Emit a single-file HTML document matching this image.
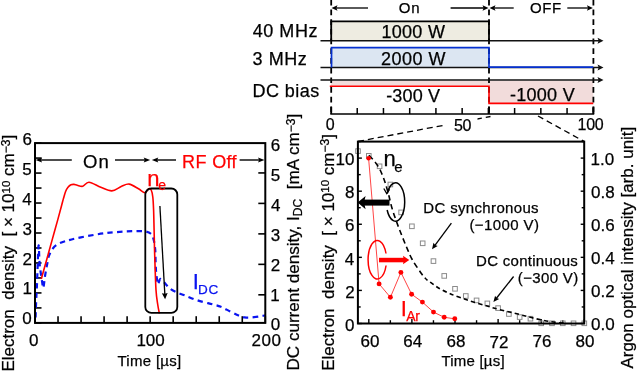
<!DOCTYPE html>
<html><head><meta charset="utf-8"><style>
html,body{margin:0;padding:0;background:#fff;width:637px;height:371px;overflow:hidden}
svg{display:block;will-change:transform}
text{font-family:"Liberation Sans",sans-serif}
</style></head><body>
<svg width="637" height="371" viewBox="0 0 637 371">
<rect x="331" y="21.4" width="158" height="19.4" fill="#EEECE1"/>
<rect x="331" y="47.6" width="158" height="19.8" fill="#DCE6F2"/>
<rect x="331" y="80.8" width="158" height="5" fill="#F2DCDB"/>
<rect x="489" y="80.8" width="104.3" height="22.4" fill="#F2DCDB"/>
<line x1="331.2" y1="-0.2" x2="331.2" y2="114" stroke="#000" stroke-width="1.8" stroke-dasharray="5.7,4"/>
<line x1="331.2" y1="106.8" x2="331.2" y2="114" stroke="#000" stroke-width="1.8"/>
<line x1="489" y1="-0.2" x2="489" y2="114" stroke="#000" stroke-width="1.8" stroke-dasharray="5.7,4"/>
<line x1="489" y1="106.8" x2="489" y2="114" stroke="#000" stroke-width="1.8"/>
<line x1="593.4" y1="-0.2" x2="593.4" y2="114" stroke="#000" stroke-width="1.8" stroke-dasharray="5.7,4"/>
<line x1="593.4" y1="106.8" x2="593.4" y2="114" stroke="#000" stroke-width="1.8"/>
<line x1="320.5" y1="40.8" x2="599" y2="40.8" stroke="#111" stroke-width="1.5"/><polygon points="603.5,40.8 597.5,43.8 598.7,40.8 597.5,37.8" fill="#111"/>
<line x1="320.5" y1="67.4" x2="599" y2="67.4" stroke="#111" stroke-width="1.5"/><polygon points="603.5,67.4 597.5,70.4 598.7,67.4 597.5,64.4" fill="#111"/>
<line x1="320.5" y1="80" x2="599" y2="80" stroke="#111" stroke-width="1.5"/><polygon points="603.5,80 597.5,83 598.7,80 597.5,77" fill="#111"/>
<path d="M331.2,40.8 V21.4 H489 V40.8" fill="none" stroke="#000" stroke-width="1.8"/>
<path d="M331.5,67.4 V47.6 H489 V67.2 H593.3" fill="none" stroke="#0530D0" stroke-width="1.7"/>
<path d="M329.8,86.3 H489 V103.4 H593.3" fill="none" stroke="#FF0000" stroke-width="1.6"/>
<line x1="330.3" y1="114" x2="594.2" y2="114" stroke="#000" stroke-width="1.6"/>
<line x1="357.23" y1="108" x2="357.23" y2="114" stroke="#000" stroke-width="1.5"/>
<line x1="383.46" y1="108" x2="383.46" y2="114" stroke="#000" stroke-width="1.5"/>
<line x1="409.69" y1="108" x2="409.69" y2="114" stroke="#000" stroke-width="1.5"/>
<line x1="435.92" y1="108" x2="435.92" y2="114" stroke="#000" stroke-width="1.5"/>
<line x1="462.15" y1="108" x2="462.15" y2="114" stroke="#000" stroke-width="1.5"/>
<line x1="488.38" y1="108" x2="488.38" y2="114" stroke="#000" stroke-width="1.5"/>
<line x1="514.61" y1="108" x2="514.61" y2="114" stroke="#000" stroke-width="1.5"/>
<line x1="540.84" y1="108" x2="540.84" y2="114" stroke="#000" stroke-width="1.5"/>
<line x1="567.07" y1="108" x2="567.07" y2="114" stroke="#000" stroke-width="1.5"/>
<line x1="593.3" y1="108" x2="593.3" y2="114" stroke="#000" stroke-width="1.5"/>
<line x1="368" y1="8" x2="336" y2="8" stroke="#000" stroke-width="1.3"/><polygon points="331.5,8 337.5,5.2 336.3,8 337.5,10.8" fill="#000"/>
<line x1="450.6" y1="8" x2="484" y2="8" stroke="#000" stroke-width="1.3"/><polygon points="488.5,8 482.5,10.8 483.7,8 482.5,5.2" fill="#000"/>
<line x1="513.7" y1="8" x2="494" y2="8" stroke="#000" stroke-width="1.3"/><polygon points="489.5,8 495.5,5.2 494.3,8 495.5,10.8" fill="#000"/>
<line x1="567.3" y1="8" x2="588.4" y2="8" stroke="#000" stroke-width="1.3"/><polygon points="592.9,8 586.9,10.8 588.1,8 586.9,5.2" fill="#000"/>
<text x="398.69" y="12.96" font-size="15" fill="#000" stroke="#000" stroke-width="0.25" textLength="20.97" lengthAdjust="spacing">On</text>
<text x="529.89" y="13.01" font-size="15" fill="#000" stroke="#000" stroke-width="0.25" textLength="31.34" lengthAdjust="spacing">OFF</text>
<text x="252.79" y="37.34" font-size="18" fill="#000" stroke="#000" stroke-width="0.25" textLength="64.61" lengthAdjust="spacing">40 MHz</text>
<text x="252.52" y="64.94" font-size="18" fill="#000" stroke="#000" stroke-width="0.25" textLength="54.26" lengthAdjust="spacing">3 MHz</text>
<text x="252.41" y="97.19" font-size="18" fill="#000" stroke="#000" stroke-width="0.25" textLength="66.9" lengthAdjust="spacing">DC bias</text>
<text x="381.45" y="37.59" font-size="18" fill="#000" stroke="#000" stroke-width="0.25" textLength="63.52" lengthAdjust="spacing">1000 W</text>
<text x="380.9" y="64.69" font-size="18" fill="#000" stroke="#000" stroke-width="0.25" textLength="64.57" lengthAdjust="spacing">2000 W</text>
<text x="386.19" y="101.59" font-size="18" fill="#000" stroke="#000" stroke-width="0.25" textLength="53.78" lengthAdjust="spacing">-300 V</text>
<text x="509.89" y="101.09" font-size="18" fill="#000" stroke="#000" stroke-width="0.25" textLength="64.8" lengthAdjust="spacing">-1000 V</text>
<text x="325.76" y="130.35" font-size="16" fill="#000" stroke="#000" stroke-width="0.25">0</text>
<line x1="358" y1="141.4" x2="490.5" y2="116.5" stroke="#000" stroke-width="1.3" stroke-dasharray="6,4"/>
<line x1="538" y1="116" x2="584" y2="141.4" stroke="#000" stroke-width="1.3" stroke-dasharray="6,4"/>
<rect x="443.5" y="117.5" width="34" height="16" fill="#fff"/>
<text x="453.96" y="130.5" font-size="16" fill="#000" stroke="#000" stroke-width="0.25" textLength="17.48" lengthAdjust="spacing">50</text>
<text x="577.5" y="130.1" font-size="16" fill="#000" stroke="#000" stroke-width="0.25" textLength="26.22" lengthAdjust="spacing">100</text>
<line x1="35" y1="322.9" x2="41.5" y2="322.9" stroke="#000" stroke-width="1.6"/>
<line x1="35" y1="307.92" x2="41.5" y2="307.92" stroke="#000" stroke-width="1.6"/>
<line x1="35" y1="292.93" x2="41.5" y2="292.93" stroke="#000" stroke-width="1.6"/>
<line x1="35" y1="277.95" x2="41.5" y2="277.95" stroke="#000" stroke-width="1.6"/>
<line x1="35" y1="262.97" x2="41.5" y2="262.97" stroke="#000" stroke-width="1.6"/>
<line x1="35" y1="247.98" x2="41.5" y2="247.98" stroke="#000" stroke-width="1.6"/>
<line x1="35" y1="233" x2="41.5" y2="233" stroke="#000" stroke-width="1.6"/>
<line x1="35" y1="218.02" x2="41.5" y2="218.02" stroke="#000" stroke-width="1.6"/>
<line x1="35" y1="203.03" x2="41.5" y2="203.03" stroke="#000" stroke-width="1.6"/>
<line x1="35" y1="188.05" x2="41.5" y2="188.05" stroke="#000" stroke-width="1.6"/>
<line x1="35" y1="173.07" x2="41.5" y2="173.07" stroke="#000" stroke-width="1.6"/>
<line x1="35" y1="158.08" x2="41.5" y2="158.08" stroke="#000" stroke-width="1.6"/>
<line x1="35" y1="143.1" x2="41.5" y2="143.1" stroke="#000" stroke-width="1.6"/>
<line x1="258.3" y1="294.82" x2="265.3" y2="294.82" stroke="#000" stroke-width="1.6"/>
<line x1="258.3" y1="264.35" x2="265.3" y2="264.35" stroke="#000" stroke-width="1.6"/>
<line x1="258.3" y1="233.88" x2="265.3" y2="233.88" stroke="#000" stroke-width="1.6"/>
<line x1="258.3" y1="203.4" x2="265.3" y2="203.4" stroke="#000" stroke-width="1.6"/>
<line x1="258.3" y1="172.93" x2="265.3" y2="172.93" stroke="#000" stroke-width="1.6"/>
<line x1="35" y1="316.2" x2="35" y2="322.9" stroke="#000" stroke-width="1.6"/>
<line x1="58.03" y1="316.2" x2="58.03" y2="322.9" stroke="#000" stroke-width="1.6"/>
<line x1="81.06" y1="316.2" x2="81.06" y2="322.9" stroke="#000" stroke-width="1.6"/>
<line x1="104.09" y1="316.2" x2="104.09" y2="322.9" stroke="#000" stroke-width="1.6"/>
<line x1="127.12" y1="316.2" x2="127.12" y2="322.9" stroke="#000" stroke-width="1.6"/>
<line x1="150.15" y1="316.2" x2="150.15" y2="322.9" stroke="#000" stroke-width="1.6"/>
<line x1="173.18" y1="316.2" x2="173.18" y2="322.9" stroke="#000" stroke-width="1.6"/>
<line x1="196.21" y1="316.2" x2="196.21" y2="322.9" stroke="#000" stroke-width="1.6"/>
<line x1="219.24" y1="316.2" x2="219.24" y2="322.9" stroke="#000" stroke-width="1.6"/>
<line x1="242.27" y1="316.2" x2="242.27" y2="322.9" stroke="#000" stroke-width="1.6"/>
<line x1="265.3" y1="316.2" x2="265.3" y2="322.9" stroke="#000" stroke-width="1.6"/>
<path d="M35.5,321 C35.62,317.5 35.95,306.17 36.2,300 C36.45,293.83 36.62,293 37,284 C37.38,275 38.08,249.67 38.5,246 C38.92,242.33 39.17,257.83 39.5,262 C39.83,266.17 40.08,267.83 40.5,271 C40.92,274.17 41.53,278.17 42,281 C42.47,283.83 42.82,288.67 43.3,288 C43.78,287.33 44.42,280.17 44.9,277 C45.38,273.83 45.78,271.33 46.2,269 C46.62,266.67 46.95,265.17 47.4,263 C47.85,260.83 48.12,258.25 48.9,256 C49.68,253.75 50.75,251.38 52.1,249.5 C53.45,247.62 54.85,246.07 57,244.7 C59.15,243.33 61.02,242.53 65,241.3 C68.98,240.07 73.93,238.68 80.9,237.3 C87.87,235.92 98.17,234.02 106.8,233 C115.43,231.98 126.37,231.47 132.7,231.2 C139.03,230.93 141.77,230.97 144.8,231.4 C147.83,231.83 149.43,232.45 150.9,233.8 C152.37,235.15 152.88,236.9 153.6,239.5 C154.32,242.1 154.87,245.65 155.2,249.4 C155.53,253.15 155.45,258.23 155.6,262 C155.75,265.77 155.85,269 156.1,272 C156.35,275 156.77,277.93 157.1,280 C157.43,282.07 157.58,284.57 158.1,284.4 C158.62,284.23 159.3,279.48 160.2,279 C161.1,278.52 162.45,280.5 163.5,281.5 C164.55,282.5 165.42,283.82 166.5,285 C167.58,286.18 168.42,287.42 170,288.6 C171.58,289.78 173.58,290.98 176,292.1 C178.42,293.22 180.93,293.93 184.5,295.3 C188.07,296.67 192.7,298.78 197.4,300.3 C202.1,301.82 208.78,303.32 212.7,304.4 C216.62,305.48 217.97,305.62 220.9,306.8 C223.83,307.98 227.35,310.03 230.3,311.5 C233.25,312.97 236.23,314.62 238.6,315.6 C240.97,316.58 242.35,317.08 244.5,317.4 C246.65,317.72 248.77,317.7 251.5,317.5 C254.23,317.3 258.65,316.55 260.9,316.2 C263.15,315.85 264.32,315.53 265,315.4" fill="none" stroke="#0A14F0" stroke-width="2.2" stroke-dasharray="5.4,4.31" stroke-dashoffset="6.16"/>
<path d="M41.3,279 C42.22,275.7 44.97,265.8 46.8,259.2 C48.63,252.6 50.47,246 52.3,239.4 C54.13,232.8 56.25,225.25 57.8,219.6 C59.35,213.95 60.63,209.1 61.6,205.5 C62.57,201.9 62.93,200.33 63.6,198 C64.27,195.67 64.87,193.28 65.6,191.5 C66.33,189.72 67.1,188.42 68,187.3 C68.9,186.18 70,185.28 71,184.8 C72,184.32 72.95,184.32 74,184.4 C75.05,184.48 75.83,184.98 77.3,185.3 C78.77,185.62 80.85,186.82 82.8,186.3 C84.75,185.78 86,182.03 89,182.2 C92,182.37 97,185.85 100.8,187.3 C104.6,188.75 108.4,191.03 111.8,190.9 C115.2,190.77 118.32,187.63 121.2,186.5 C124.08,185.37 126.22,183.72 129.1,184.1 C131.98,184.48 135.88,187.35 138.5,188.8 C141.12,190.25 143.1,192.8 144.8,192.8 C146.5,192.8 147.63,189.27 148.7,188.8 C149.77,188.33 150.52,188.63 151.2,190 C151.88,191.37 152.4,193.67 152.8,197 C153.2,200.33 153.38,204.5 153.6,210 C153.82,215.5 153.92,222.5 154.1,230 C154.28,237.5 154.38,245 154.7,255 C155.02,265 155.48,281.67 156,290 C156.52,298.33 157.23,301.08 157.8,305 C158.37,308.92 159.13,312.08 159.4,313.5" fill="none" stroke="#FF0000" stroke-width="1.6"/>
<rect x="145.3" y="188.5" width="32" height="124.4" rx="6" fill="none" stroke="#000" stroke-width="1.8"/>
<line x1="159.9" y1="206" x2="164.82" y2="294.11" stroke="#000" stroke-width="1.3"/><polygon points="165.1,299.2 161.87,293.37 164.8,293.81 167.66,293.05" fill="#000"/>
<rect x="35" y="143.1" width="230.3" height="179.8" fill="none" stroke="#000" stroke-width="2"/>
<line x1="71.8" y1="160" x2="40.6" y2="160" stroke="#000" stroke-width="1.4"/><polygon points="35.6,160 42.1,157.5 40.9,160 42.1,162.5" fill="#000"/>
<line x1="115" y1="160" x2="145.2" y2="160" stroke="#000" stroke-width="1.4"/><polygon points="150.2,160 143.7,162.5 144.9,160 143.7,157.5" fill="#000"/>
<line x1="176" y1="160" x2="156.8" y2="160" stroke="#000" stroke-width="1.4"/><polygon points="151.8,160 158.3,157.5 157.1,160 158.3,162.5" fill="#000"/>
<line x1="239.6" y1="160" x2="259.5" y2="160" stroke="#000" stroke-width="1.4"/><polygon points="264.5,160 258,162.5 259.2,160 258,157.5" fill="#000"/>
<text x="83.02" y="168.21" font-size="18.5" fill="#000" stroke="#000" stroke-width="0.25" textLength="25.86" lengthAdjust="spacing">On</text>
<text x="182.01" y="167.86" font-size="18" fill="#FF0000" stroke="#FF0000" stroke-width="0.25" textLength="54.57" lengthAdjust="spacing">RF Off</text>
<text x="147.21" y="185.91" font-size="22" fill="#FF0000" stroke="#FF0000" stroke-width="0.25">n</text>
<text x="158.21" y="190.39" font-size="14" fill="#FF0000" stroke="#FF0000" stroke-width="0.25">e</text>
<text x="192.87" y="289.3" font-size="22" fill="#0A14F0" stroke="#0A14F0" stroke-width="0.25">I</text>
<text x="197.89" y="293.59" font-size="13.5" fill="#0A14F0" stroke="#0A14F0" stroke-width="0.25" textLength="20.41" lengthAdjust="spacing">DC</text>
<text x="22.3" y="324.17" font-size="17" fill="#000" stroke="#000" stroke-width="0.25">0</text>
<text x="22.47" y="294.34" font-size="17" fill="#000" stroke="#000" stroke-width="0.25">1</text>
<text x="22.52" y="264.6" font-size="17" fill="#000" stroke="#000" stroke-width="0.25">2</text>
<text x="22.39" y="234.68" font-size="17" fill="#000" stroke="#000" stroke-width="0.25">3</text>
<text x="22.13" y="204.85" font-size="17" fill="#000" stroke="#000" stroke-width="0.25">4</text>
<text x="22.34" y="174.94" font-size="17" fill="#000" stroke="#000" stroke-width="0.25">5</text>
<text x="22.39" y="145.19" font-size="17" fill="#000" stroke="#000" stroke-width="0.25">6</text>
<text x="270.82" y="330.34" font-size="17" fill="#000" stroke="#000" stroke-width="0.25">0</text>
<text x="270.23" y="300.5" font-size="17" fill="#000" stroke="#000" stroke-width="0.25">1</text>
<text x="270.65" y="270.75" font-size="17" fill="#000" stroke="#000" stroke-width="0.25">2</text>
<text x="270.86" y="240.82" font-size="17" fill="#000" stroke="#000" stroke-width="0.25">3</text>
<text x="271.12" y="210.98" font-size="17" fill="#000" stroke="#000" stroke-width="0.25">4</text>
<text x="270.82" y="181.06" font-size="17" fill="#000" stroke="#000" stroke-width="0.25">5</text>
<text x="270.65" y="151.3" font-size="17" fill="#000" stroke="#000" stroke-width="0.25">6</text>
<text x="29.06" y="345.74" font-size="17" fill="#000" stroke="#000" stroke-width="0.25">0</text>
<text x="136.42" y="345.74" font-size="17" fill="#000" stroke="#000" stroke-width="0.25">100</text>
<text x="251.45" y="345.64" font-size="17" fill="#000" stroke="#000" stroke-width="0.25" textLength="29.5" lengthAdjust="spacing">200</text>
<text x="117.46" y="365.78" font-size="15" fill="#000" stroke="#000" stroke-width="0.25" textLength="63.79" lengthAdjust="spacing">Time [&#181;s]</text>
<text transform="translate(13.8,371.6) rotate(-90)" font-size="17" stroke="#000" stroke-width="0.25" xml:space="preserve">Electron  density  [ &#215; 10<tspan font-size="11.5" dy="-4.2">10</tspan><tspan dy="4.2"> cm</tspan><tspan font-size="12" dy="-4.2">&#8722;3</tspan><tspan dy="4.2">]</tspan></text>
<text transform="translate(298.7,370.5) rotate(-90) scale(1.005,1)" font-size="17" stroke="#000" stroke-width="0.25" xml:space="preserve">DC current density, I<tspan font-size="12" dy="3.5">DC</tspan><tspan dy="-3.5">  [mA cm</tspan><tspan font-size="12" dy="-4.2">&#8722;3</tspan><tspan dy="4.2">]</tspan></text>
<line x1="357.9" y1="323.5" x2="361.9" y2="323.5" stroke="#000" stroke-width="1.4"/>
<line x1="357.9" y1="306.96" x2="360.7" y2="306.96" stroke="#000" stroke-width="1.4"/>
<line x1="357.9" y1="290.42" x2="361.9" y2="290.42" stroke="#000" stroke-width="1.4"/>
<line x1="357.9" y1="273.88" x2="360.7" y2="273.88" stroke="#000" stroke-width="1.4"/>
<line x1="357.9" y1="257.34" x2="361.9" y2="257.34" stroke="#000" stroke-width="1.4"/>
<line x1="357.9" y1="240.8" x2="360.7" y2="240.8" stroke="#000" stroke-width="1.4"/>
<line x1="357.9" y1="224.26" x2="361.9" y2="224.26" stroke="#000" stroke-width="1.4"/>
<line x1="357.9" y1="207.72" x2="360.7" y2="207.72" stroke="#000" stroke-width="1.4"/>
<line x1="357.9" y1="191.18" x2="361.9" y2="191.18" stroke="#000" stroke-width="1.4"/>
<line x1="357.9" y1="174.64" x2="360.7" y2="174.64" stroke="#000" stroke-width="1.4"/>
<line x1="357.9" y1="158.1" x2="361.9" y2="158.1" stroke="#000" stroke-width="1.4"/>
<line x1="357.9" y1="141.56" x2="360.7" y2="141.56" stroke="#000" stroke-width="1.4"/>
<line x1="580.7" y1="323.5" x2="584.2" y2="323.5" stroke="#000" stroke-width="1.4"/>
<line x1="581.7" y1="306.96" x2="584.2" y2="306.96" stroke="#000" stroke-width="1.4"/>
<line x1="580.7" y1="290.42" x2="584.2" y2="290.42" stroke="#000" stroke-width="1.4"/>
<line x1="581.7" y1="273.88" x2="584.2" y2="273.88" stroke="#000" stroke-width="1.4"/>
<line x1="580.7" y1="257.34" x2="584.2" y2="257.34" stroke="#000" stroke-width="1.4"/>
<line x1="581.7" y1="240.8" x2="584.2" y2="240.8" stroke="#000" stroke-width="1.4"/>
<line x1="580.7" y1="224.26" x2="584.2" y2="224.26" stroke="#000" stroke-width="1.4"/>
<line x1="581.7" y1="207.72" x2="584.2" y2="207.72" stroke="#000" stroke-width="1.4"/>
<line x1="580.7" y1="191.18" x2="584.2" y2="191.18" stroke="#000" stroke-width="1.4"/>
<line x1="581.7" y1="174.64" x2="584.2" y2="174.64" stroke="#000" stroke-width="1.4"/>
<line x1="580.7" y1="158.1" x2="584.2" y2="158.1" stroke="#000" stroke-width="1.4"/>
<line x1="581.7" y1="141.56" x2="584.2" y2="141.56" stroke="#000" stroke-width="1.4"/>
<line x1="368.8" y1="319.1" x2="368.8" y2="323.5" stroke="#000" stroke-width="1.4"/>
<line x1="390.35" y1="320.2" x2="390.35" y2="323.5" stroke="#000" stroke-width="1.4"/>
<line x1="411.9" y1="319.1" x2="411.9" y2="323.5" stroke="#000" stroke-width="1.4"/>
<line x1="433.46" y1="320.2" x2="433.46" y2="323.5" stroke="#000" stroke-width="1.4"/>
<line x1="455.01" y1="319.1" x2="455.01" y2="323.5" stroke="#000" stroke-width="1.4"/>
<line x1="476.56" y1="320.2" x2="476.56" y2="323.5" stroke="#000" stroke-width="1.4"/>
<line x1="498.11" y1="319.1" x2="498.11" y2="323.5" stroke="#000" stroke-width="1.4"/>
<line x1="519.66" y1="320.2" x2="519.66" y2="323.5" stroke="#000" stroke-width="1.4"/>
<line x1="541.22" y1="319.1" x2="541.22" y2="323.5" stroke="#000" stroke-width="1.4"/>
<line x1="562.77" y1="320.2" x2="562.77" y2="323.5" stroke="#000" stroke-width="1.4"/>
<line x1="584.32" y1="319.1" x2="584.32" y2="323.5" stroke="#000" stroke-width="1.4"/>
<rect x="355.72" y="148.8" width="4.6" height="4.6" fill="none" stroke="#8a8a8a" stroke-width="1"/>
<rect x="366.5" y="153.5" width="4.6" height="4.6" fill="none" stroke="#8a8a8a" stroke-width="1"/>
<rect x="377.28" y="164" width="4.6" height="4.6" fill="none" stroke="#8a8a8a" stroke-width="1"/>
<rect x="388.05" y="182.2" width="4.6" height="4.6" fill="none" stroke="#8a8a8a" stroke-width="1"/>
<rect x="398.83" y="210.1" width="4.6" height="4.6" fill="none" stroke="#8a8a8a" stroke-width="1"/>
<rect x="409.6" y="224" width="4.6" height="4.6" fill="none" stroke="#8a8a8a" stroke-width="1"/>
<rect x="420.38" y="241" width="4.6" height="4.6" fill="none" stroke="#8a8a8a" stroke-width="1"/>
<rect x="431.16" y="258.8" width="4.6" height="4.6" fill="none" stroke="#8a8a8a" stroke-width="1"/>
<rect x="441.93" y="273.6" width="4.6" height="4.6" fill="none" stroke="#8a8a8a" stroke-width="1"/>
<rect x="452.71" y="286.5" width="4.6" height="4.6" fill="none" stroke="#8a8a8a" stroke-width="1"/>
<rect x="463.48" y="293.7" width="4.6" height="4.6" fill="none" stroke="#8a8a8a" stroke-width="1"/>
<rect x="474.26" y="298.1" width="4.6" height="4.6" fill="none" stroke="#8a8a8a" stroke-width="1"/>
<rect x="485.04" y="301.1" width="4.6" height="4.6" fill="none" stroke="#8a8a8a" stroke-width="1"/>
<rect x="495.81" y="305.8" width="4.6" height="4.6" fill="none" stroke="#8a8a8a" stroke-width="1"/>
<rect x="506.59" y="311.7" width="4.6" height="4.6" fill="none" stroke="#8a8a8a" stroke-width="1"/>
<rect x="517.36" y="314.8" width="4.6" height="4.6" fill="none" stroke="#8a8a8a" stroke-width="1"/>
<rect x="528.14" y="316.4" width="4.6" height="4.6" fill="none" stroke="#8a8a8a" stroke-width="1"/>
<rect x="538.92" y="321" width="4.6" height="4.6" fill="none" stroke="#8a8a8a" stroke-width="1"/>
<rect x="549.69" y="321" width="4.6" height="4.6" fill="none" stroke="#8a8a8a" stroke-width="1"/>
<rect x="560.47" y="321" width="4.6" height="4.6" fill="none" stroke="#8a8a8a" stroke-width="1"/>
<rect x="571.24" y="321" width="4.6" height="4.6" fill="none" stroke="#8a8a8a" stroke-width="1"/>
<rect x="582.02" y="321" width="4.6" height="4.6" fill="none" stroke="#8a8a8a" stroke-width="1"/>
<path d="M368.6,155 C369.25,155.67 371.22,157.55 372.5,159 C373.78,160.45 374.98,161.78 376.3,163.7 C377.62,165.62 379.02,167.62 380.4,170.5 C381.78,173.38 383.28,177.17 384.6,181 C385.92,184.83 387.05,188.92 388.3,193.5 C389.55,198.08 390.63,203.53 392.1,208.5 C393.57,213.47 395.42,218.63 397.1,223.3 C398.78,227.97 400.52,232.28 402.2,236.5 C403.88,240.72 405.53,244.77 407.2,248.6 C408.87,252.43 409.93,255.48 412.2,259.5 C414.47,263.52 418.5,269.45 420.8,272.7 C423.1,275.95 424.2,277.25 426,279" fill="none" stroke="#000" stroke-width="1.6" stroke-dasharray="5.4,3.66" stroke-dashoffset="8.49"/>
<path d="M426,279 C427.8,280.75 429.77,281.87 431.6,283.2 C433.43,284.53 435.22,285.85 437,287 C438.78,288.15 440.23,289.03 442.3,290.1 C444.37,291.17 447.28,292.47 449.4,293.4 C451.52,294.33 452.65,294.82 455,295.7 C457.35,296.58 461,297.83 463.5,298.7 C466,299.57 466.42,299.78 470,300.9 C473.58,302.02 480.18,303.98 485,305.4 C489.82,306.82 493.07,307.87 498.9,309.4 C504.73,310.93 514.12,313.12 520,314.6 C525.88,316.08 529.2,317.13 534.2,318.3 C539.2,319.47 544.9,320.77 550,321.6 C555.1,322.43 562.33,323.02 564.8,323.3" fill="none" stroke="#000" stroke-width="1.6" stroke-dasharray="4.35,3.21" stroke-dashoffset="2.42"/>
<polyline points="368.6,158.3 379.1,283.9 390.4,297.3 400.9,272.4 411.6,294.2 422.4,302.1 433.5,312.1 444.2,317.3 454.8,318.8" fill="none" stroke="#FF3030" stroke-width="0.9" />
<circle cx="368.6" cy="158.3" r="2.3" fill="#FF0000"/>
<circle cx="379.1" cy="283.9" r="2.45" fill="#FF0000"/>
<circle cx="390.4" cy="297.3" r="2.45" fill="#FF0000"/>
<circle cx="400.9" cy="272.4" r="2.45" fill="#FF0000"/>
<circle cx="411.6" cy="294.2" r="2.45" fill="#FF0000"/>
<circle cx="422.4" cy="302.1" r="2.45" fill="#FF0000"/>
<circle cx="433.5" cy="312.1" r="2.45" fill="#FF0000"/>
<circle cx="444.2" cy="317.3" r="2.45" fill="#FF0000"/>
<circle cx="454.8" cy="318.8" r="2.45" fill="#FF0000"/>
<rect x="357.9" y="141.6" width="226.3" height="181.9" fill="none" stroke="#000" stroke-width="2"/>
<path d="M387.25,193.5 A9.2,19.2 0 1 1 387.14,210" fill="none" stroke="#000" stroke-width="1.5"/>
<path d="M383.8,188.5 L386.7,193.6 L389.6,189.3" fill="none" stroke="#000" stroke-width="1.3"/>
<rect x="363" y="199.6" width="26.5" height="6" fill="#000"/>
<polygon points="357.6,202.6 365.6,195.9 364,202.6 365.6,209.3" fill="#000"/>
<path d="M386.01,253.5 A9.2,19.3 0 1 0 386.07,265.5" fill="none" stroke="#FF0000" stroke-width="1.5"/>
<rect x="379" y="257.8" width="25" height="4.5" fill="#FF0000"/>
<polygon points="409.3,260 403,255.8 403.8,260 403,264.2" fill="#FF0000"/>
<text x="383.41" y="166.46" font-size="22" fill="#000" stroke="#000" stroke-width="0.25">n</text>
<text x="394.36" y="171.56" font-size="15" fill="#000" stroke="#000" stroke-width="0.25">e</text>
<text x="423.26" y="213.08" font-size="15" fill="#000" stroke="#000" stroke-width="0.25" textLength="115.36" lengthAdjust="spacing">DC synchronous</text>
<text x="469.46" y="230.23" font-size="15" fill="#000" stroke="#000" stroke-width="0.25" textLength="69.53" lengthAdjust="spacing">(&#8722;1000 V)</text>
<text x="476.06" y="265.86" font-size="15" fill="#000" stroke="#000" stroke-width="0.25" textLength="101.75" lengthAdjust="spacing">DC continuous</text>
<text x="517.86" y="282.88" font-size="15" fill="#000" stroke="#000" stroke-width="0.25" textLength="60.35" lengthAdjust="spacing">(&#8722;300 V)</text>
<line x1="451.4" y1="223.1" x2="434.92" y2="245.27" stroke="#000" stroke-width="1.3"/><polygon points="432,249.2 433.49,242.83 435.1,245.03 437.67,245.94" fill="#000"/>
<line x1="513.6" y1="276.5" x2="496.44" y2="298.25" stroke="#000" stroke-width="1.3"/><polygon points="493.4,302.1 495.08,295.78 496.62,298.02 499.16,299" fill="#000"/>
<text x="400.66" y="316.4" font-size="22" fill="#FF0000" stroke="#FF0000" stroke-width="0.25">I</text>
<text x="406.26" y="320.86" font-size="14" fill="#FF0000" stroke="#FF0000" stroke-width="0.25" textLength="13.64" lengthAdjust="spacing">Ar</text>
<text x="345" y="331.14" font-size="17" fill="#000" stroke="#000" stroke-width="0.25">0</text>
<text x="345.21" y="297.92" font-size="17" fill="#000" stroke="#000" stroke-width="0.25">2</text>
<text x="344.83" y="264.52" font-size="17" fill="#000" stroke="#000" stroke-width="0.25">4</text>
<text x="345.09" y="231.21" font-size="17" fill="#000" stroke="#000" stroke-width="0.25">6</text>
<text x="345.09" y="197.9" font-size="17" fill="#000" stroke="#000" stroke-width="0.25">8</text>
<text x="335.57" y="164.59" font-size="17" fill="#000" stroke="#000" stroke-width="0.25">10</text>
<text x="591.12" y="330.04" font-size="17" fill="#000" stroke="#000" stroke-width="0.25">0.0</text>
<text x="591.12" y="297.11" font-size="17" fill="#000" stroke="#000" stroke-width="0.25">0.2</text>
<text x="591.12" y="264.18" font-size="17" fill="#000" stroke="#000" stroke-width="0.25">0.4</text>
<text x="591.12" y="231.25" font-size="17" fill="#000" stroke="#000" stroke-width="0.25">0.6</text>
<text x="591.12" y="198.32" font-size="17" fill="#000" stroke="#000" stroke-width="0.25">0.8</text>
<text x="590.52" y="165.39" font-size="17" fill="#000" stroke="#000" stroke-width="0.25">1.0</text>
<text x="360.46" y="347.44" font-size="17" fill="#000" stroke="#000" stroke-width="0.25">60</text>
<text x="403.37" y="347.44" font-size="17" fill="#000" stroke="#000" stroke-width="0.25">64</text>
<text x="446.5" y="347.44" font-size="17" fill="#000" stroke="#000" stroke-width="0.25">68</text>
<text x="489.56" y="347.53" font-size="17" fill="#000" stroke="#000" stroke-width="0.25">72</text>
<text x="532.5" y="347.44" font-size="17" fill="#000" stroke="#000" stroke-width="0.25">76</text>
<text x="575.52" y="347.44" font-size="17" fill="#000" stroke="#000" stroke-width="0.25">80</text>
<text x="441.46" y="366.23" font-size="15" fill="#000" stroke="#000" stroke-width="0.25" textLength="63.09" lengthAdjust="spacing">Time [&#181;s]</text>
<text transform="translate(333.6,370.8) rotate(-90)" font-size="17" stroke="#000" stroke-width="0.25" xml:space="preserve">Electron  density  [ &#215; 10<tspan font-size="11.5" dy="-4.2">10</tspan><tspan dy="4.2"> cm</tspan><tspan font-size="12" dy="-4.2">&#8722;3</tspan><tspan dy="4.2">]</tspan></text>
<text transform="translate(633,368.6) rotate(-90)" font-size="17" stroke="#000" stroke-width="0.25" xml:space="preserve">Argon optical intensity [arb. unit]</text>
</svg>
</body></html>
